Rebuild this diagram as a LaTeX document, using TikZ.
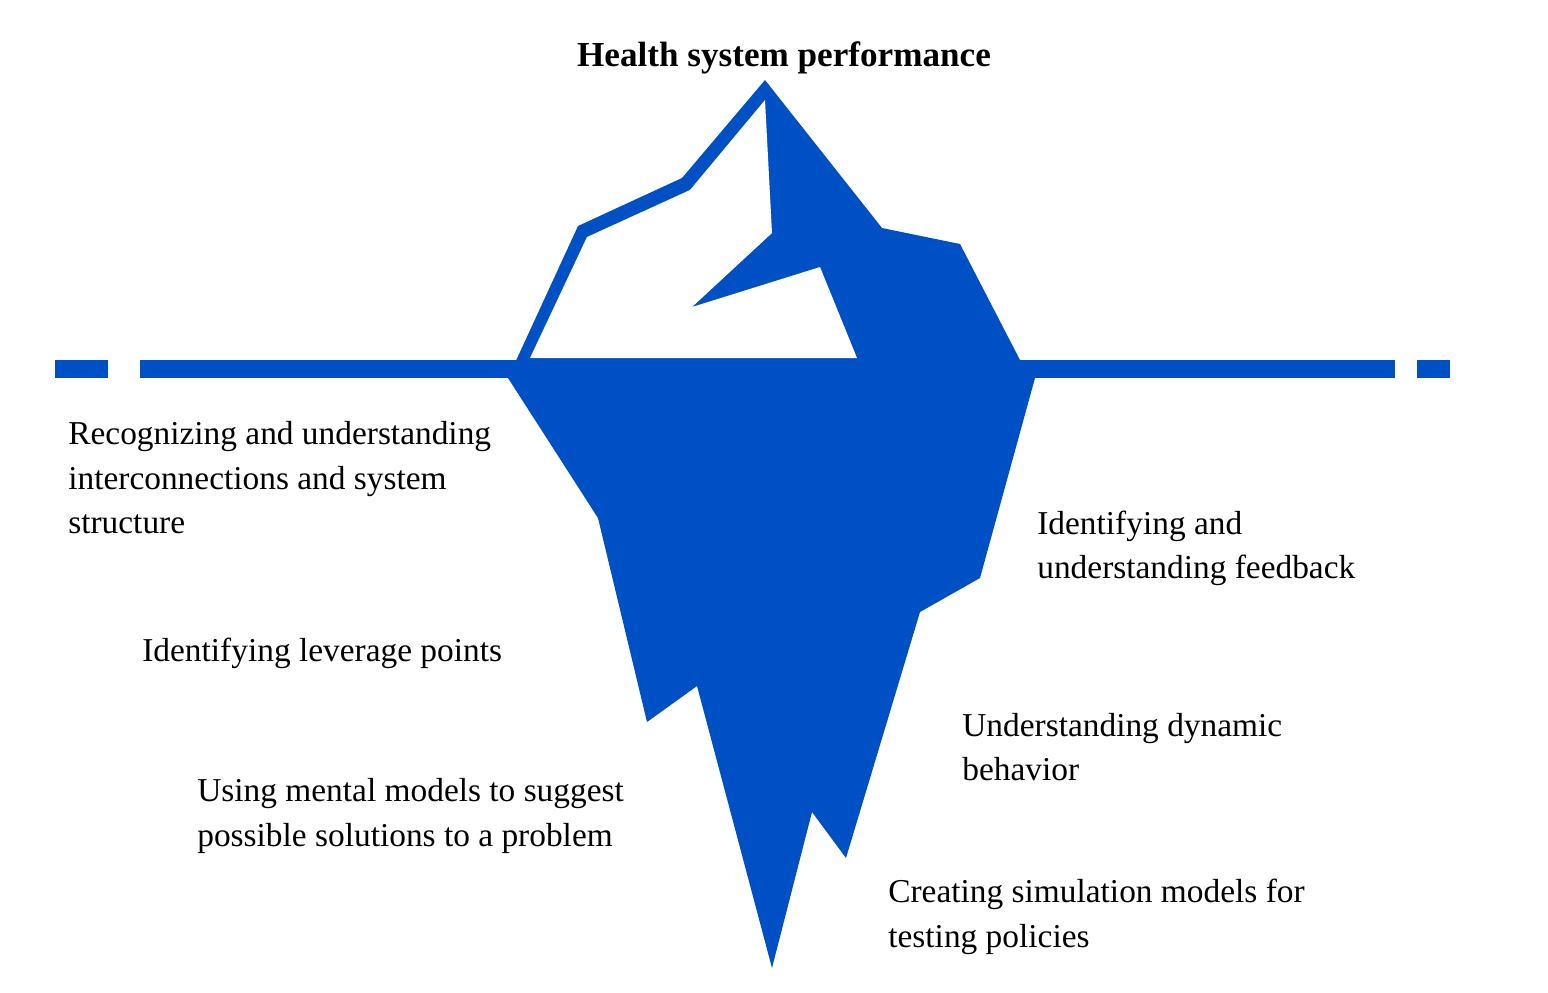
\documentclass[tikz,border=0pt]{standalone}
\usepackage{fontspec}
\setmainfont{Liberation Serif}
\definecolor{ice}{HTML}{0050C5}
\begin{document}
\begin{tikzpicture}[x=0.02cm,y=-0.02cm,
  lbl/.style={anchor=base west,inner sep=0pt,font=\fontsize{19}{23}\selectfont},
  ttl/.style={anchor=base,inner sep=0pt,font=\fontsize{20}{24}\selectfont\bfseries}]
\useasboundingbox (0,0) rectangle (1548,992);
% water line
\fill[ice] (55,360) rectangle (108,378);
\fill[ice] (140,360) rectangle (520,378);
\fill[ice] (1010,360) rectangle (1395,378);
\fill[ice] (1417,360) rectangle (1450,378);
% iceberg
\fill[ice] (508,378) -- (578,226) -- (682,178) -- (765,80) -- (882,228) -- (960,244) -- (1020,360) -- (1035,378) -- (980,578) -- (920,612) -- (846,858) -- (812,812) -- (772,968) -- (697,686) -- (647,722) -- (598,518) -- cycle;
\fill[white] (530,358) -- (587,237) -- (690,190) -- (765,100) -- (772,233) -- (692,307) -- (820,267) -- (857,358) -- cycle;
% texts
\node[ttl] (t) at (784,66) {Health system performance};
\node[lbl] (a1) at (68,444) {Recognizing and understanding};
\node[lbl] (a2) at (68,489) {interconnections and system};
\node[lbl] (a3) at (68,533) {structure};
\node[lbl] (b1) at (142,661) {Identifying leverage points};
\node[lbl] (c1) at (197,801) {Using mental models to suggest};
\node[lbl] (c2) at (197,846) {possible solutions to a problem};
\node[lbl] (d1) at (1037,534) {Identifying and};
\node[lbl] (d2) at (1037,578) {understanding feedback};
\node[lbl] (e1) at (962,736) {Understanding dynamic};
\node[lbl] (e2) at (962,780) {behavior};
\node[lbl] (f1) at (888,902) {Creating simulation models for};
\node[lbl] (f2) at (888,947) {testing policies};
\end{tikzpicture}
\end{document}
